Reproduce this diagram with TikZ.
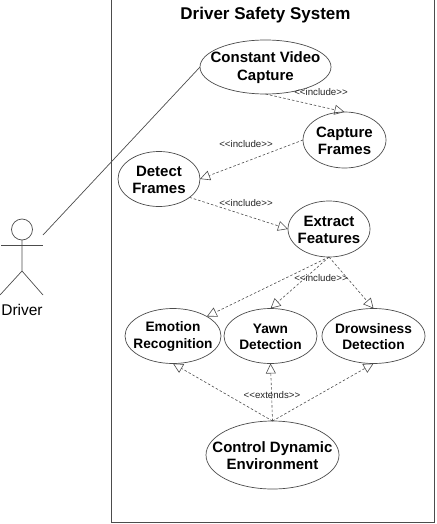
\documentclass[tikz,border=0pt]{standalone}
\usepackage{fontspec}
\setmainfont{Liberation Sans}
\usetikzlibrary{arrows.meta,shapes.geometric}
\definecolor{ln}{gray}{0.3}
\tikzset{
  uc/.style={ellipse,draw=ln,line width=0.7pt,inner sep=0pt,outer sep=0pt},
  uctext/.style={align=center,font=\fontsize{15}{17.2}\selectfont\bfseries,text=black,inner sep=0pt,yshift=-0.7pt},
  ucsmall/.style={align=center,font=\fontsize{13.7}{16.2}\selectfont\bfseries,text=black,inner sep=0pt,yshift=-0.5pt},
  dep/.style={draw=ln,line width=0.6pt,dash pattern=on 2.5pt off 2pt,-{Triangle[open,length=10pt,width=10pt,line width=0.6pt]}},
  stereo/.style={font=\fontsize{9.7}{11}\selectfont,text=black!85,inner sep=0pt},
  solidln/.style={draw=ln,line width=0.7pt},
}
\begin{document}
\begin{tikzpicture}[x=1pt,y=-1pt]
\useasboundingbox (0,0) rectangle (436,524);
\draw[draw=ln,line width=1pt] (111.5,-2) -- (111.5,522) -- (434.5,522) -- (434.5,-2);
\node[font=\fontsize{17}{20}\selectfont\bfseries,inner sep=0pt] (title) at (265.5,15) {Driver Safety System};

\node[uc,minimum width=131pt,minimum height=54pt,label={[uctext]center:Constant Video\\Capture}] (cvc) at (265.5,67) {};
\node[uc,minimum width=83pt,minimum height=56pt,label={[uctext]center:Capture\\Frames}] (cf) at (344.5,140) {};
\node[uc,minimum width=82pt,minimum height=55pt,label={[uctext]center:Detect\\Frames}] (df) at (159,179) {};
\node[uc,minimum width=82pt,minimum height=56pt,label={[uctext]center:Extract\\Features}] (ef) at (329,229) {};
\node[uc,minimum width=96pt,minimum height=55pt,label={[ucsmall]center:Emotion\\Recognition}] (er) at (173,336) {};
\node[uc,minimum width=93pt,minimum height=55pt,label={[ucsmall]center:Yawn\\Detection}] (yd) at (270.5,336) {};
\node[uc,minimum width=103pt,minimum height=55pt,label={[ucsmall]center:Drowsiness\\Detection}] (dd) at (373.5,336) {};
\node[uc,minimum width=133pt,minimum height=68pt,label={[uctext]center:Control Dynamic\\Environment}] (cde) at (272.5,455) {};

\draw[dep] (cvc.south) -- (cf.north);
\draw[dep] (cf.west) -- (df.east);
\draw[dep] (df.-31) -- (ef.west);
\draw[dep] (ef.south) -- (er.30);
\draw[dep] (ef.south) -- (yd.north);
\draw[dep] (ef.south) -- (dd.north);
\draw[dep] (cde.north) -- (er.south);
\draw[dep] (cde.north) -- (yd.south);
\draw[dep] (cde.north) -- (dd.south);

\node[stereo] (l1) at (321,92) {<{}<include>{}>};
\node[stereo] (l2) at (246,144) {<{}<include>{}>};
\node[stereo] (l3) at (246,203) {<{}<include>{}>};
\node[stereo] (l4) at (321,278) {<{}<include>{}>};
\node[stereo] (l5) at (272,395) {<{}<extends>{}>};

% actor
\node[circle,draw=ln,line width=0.7pt,minimum size=21pt,inner sep=0pt,outer sep=0pt] (head) at (22,229.5) {};
\coordinate (hip) at (22,271);
\coordinate (armL) at (1,245);
\coordinate (armR) at (43,245);
\coordinate (legL) at (0,295);
\coordinate (legR) at (43,295);
\coordinate (assoc) at (43,235);
\draw[solidln] (head.south) -- (hip) -- (legL);
\draw[solidln] (hip) -- (legR);
\draw[solidln] (armL) -- (armR);
\node[font=\fontsize{15.5}{18}\selectfont,inner sep=0pt] (driver) at (22,310) {Driver};
\draw[solidln] (assoc) -- (cvc.west);
\end{tikzpicture}
\end{document}
